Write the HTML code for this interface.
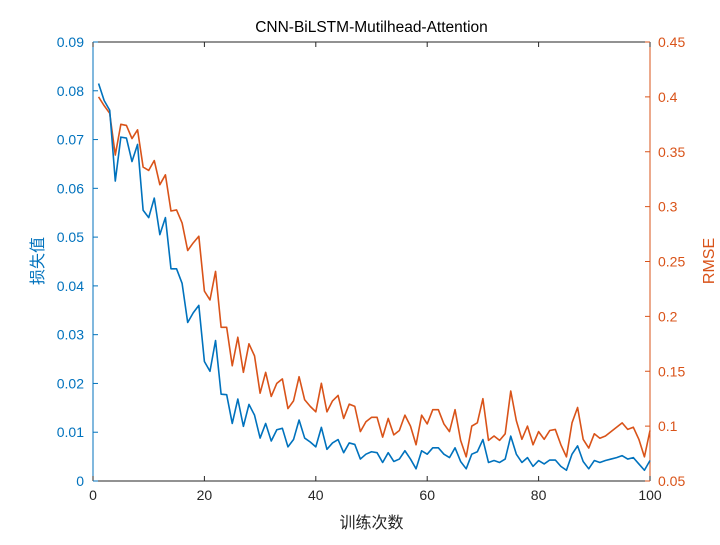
<!DOCTYPE html>
<html><head><meta charset="utf-8"><style>
body{margin:0;background:#fff;width:720px;height:540px;overflow:hidden}
text{font-family:"Liberation Sans","Noto Sans CJK SC",sans-serif}
</style></head><body>
<svg id="chart" width="720" height="540" xmlns="http://www.w3.org/2000/svg"></svg>
<script>
const xTicks=[0,20,40,60,80,100];
const lossTicks=[0,0.01,0.02,0.03,0.04,0.05,0.06,0.07,0.08,0.09];
const lossTickLabels=["0","0.01","0.02","0.03","0.04","0.05","0.06","0.07","0.08","0.09"];
const rmseTicks=[0.05,0.1,0.15,0.2,0.25,0.3,0.35,0.4,0.45];
const rmseTickLabels=["0.05","0.1","0.15","0.2","0.25","0.3","0.35","0.4","0.45"];
const lossValues=[0.0815,0.078,0.076,0.0615,0.0705,0.0703,0.0655,0.069,0.0555,0.054,0.058,0.0505,0.054,0.0435,0.0435,0.0405,0.0325,0.0345,0.036,0.0245,0.0225,0.0288,0.0178,0.0177,0.0118,0.0168,0.0112,0.0157,0.0135,0.0088,0.0118,0.0082,0.0105,0.0108,0.007,0.0085,0.0125,0.0088,0.008,0.007,0.011,0.0065,0.0078,0.0085,0.0058,0.0078,0.0075,0.0045,0.0055,0.006,0.0058,0.0038,0.0058,0.004,0.0045,0.0062,0.0045,0.0025,0.0062,0.0055,0.0068,0.0068,0.0055,0.0048,0.0068,0.004,0.0025,0.0055,0.006,0.0085,0.0038,0.0042,0.0038,0.0045,0.0092,0.0055,0.0038,0.0048,0.003,0.0042,0.0035,0.0043,0.0043,0.003,0.0022,0.0055,0.0072,0.004,0.0025,0.0042,0.0038,0.0042,0.0045,0.0048,0.0052,0.0045,0.0048,0.0035,0.0022,0.0042];
const rmseValues=[0.400,0.392,0.385,0.347,0.375,0.374,0.362,0.370,0.336,0.333,0.342,0.320,0.329,0.296,0.297,0.285,0.260,0.267,0.273,0.223,0.215,0.241,0.19,0.19,0.155,0.181,0.149,0.175,0.164,0.13,0.149,0.127,0.139,0.143,0.116,0.123,0.145,0.124,0.118,0.113,0.139,0.113,0.123,0.128,0.107,0.120,0.118,0.095,0.104,0.108,0.108,0.090,0.107,0.092,0.096,0.110,0.100,0.083,0.110,0.102,0.115,0.115,0.102,0.095,0.115,0.087,0.072,0.100,0.103,0.125,0.087,0.091,0.087,0.093,0.132,0.105,0.088,0.1,0.083,0.095,0.088,0.096,0.097,0.083,0.072,0.103,0.117,0.088,0.080,0.093,0.089,0.091,0.095,0.099,0.103,0.097,0.099,0.088,0.072,0.096];

const svg=document.getElementById('chart');
const NS='http://www.w3.org/2000/svg';
const L=93,R=650,T=42,B=481;
const BLUE='#0072BD',ORANGE='#D95319';
const xs=v=>L+(v-0)/100*(R-L);
const yl=v=>B-(v/0.09)*(B-T);
const yr=v=>B-((v-0.05)/0.4)*(B-T);
function mk(tag,attrs,parent){const e=document.createElementNS(NS,tag);for(const k in attrs)e.setAttribute(k,attrs[k]);(parent||svg).appendChild(e);return e;}

const axes=mk('g',{});


const bx=mk('line',{x1:L,y1:B,x2:R,y2:B,stroke:'#262626','stroke-width':1},axes);

const tx=mk('line',{x1:L,y1:T,x2:R,y2:T,stroke:'#262626','stroke-width':1},axes);

const la=mk('line',{x1:L,y1:T,x2:L,y2:B,stroke:BLUE,'stroke-width':1},axes);

const ra=mk('line',{x1:R,y1:T,x2:R,y2:B,stroke:ORANGE,'stroke-width':1},axes);


xTicks.forEach(v=>{
  mk('line',{x1:xs(v),y1:B,x2:xs(v),y2:B-5,stroke:'#262626'},axes);
  mk('line',{x1:xs(v),y1:T,x2:xs(v),y2:T+5,stroke:'#262626'},axes);
  const t=mk('text',{x:xs(v),y:B+19,'text-anchor':'middle','font-size':14,fill:'#262626'},axes);
  t.textContent=String(v);
  
});
lossTicks.forEach((v,i)=>{
  mk('line',{x1:L,y1:yl(v),x2:L+5,y2:yl(v),stroke:BLUE},axes);
  const t=mk('text',{x:L-9,y:yl(v)+5,'text-anchor':'end','font-size':14,fill:BLUE},axes);
  t.textContent=lossTickLabels[i];
  
});
rmseTicks.forEach((v,i)=>{
  mk('line',{x1:R,y1:yr(v),x2:R-5,y2:yr(v),stroke:ORANGE},axes);
  const t=mk('text',{x:R+8,y:yr(v)+5,'text-anchor':'start','font-size':14,fill:ORANGE},axes);
  t.textContent=rmseTickLabels[i];
  
});

const rp=mk('polyline',{points:rmseValues.map((v,i)=>xs(i+1)+','+yr(v)).join(' '),fill:'none',stroke:ORANGE,'stroke-width':1.6,'stroke-linejoin':'round'});

const lp=mk('polyline',{points:lossValues.map((v,i)=>xs(i+1)+','+yl(v)).join(' '),fill:'none',stroke:BLUE,'stroke-width':1.6,'stroke-linejoin':'round'});


const title=mk('text',{x:(L+R)/2,y:32,'text-anchor':'middle','font-size':15.5,fill:'#000'});
title.textContent='CNN-BiLSTM-Mutilhead-Attention';

const xl=mk('text',{x:(L+R)/2,y:528,'text-anchor':'middle','font-size':16,fill:'#262626'});
xl.textContent='训练次数';

const yt=mk('text',{x:0,y:0,'text-anchor':'middle','font-size':16,fill:BLUE,transform:'translate(43,261) rotate(-90)'});
yt.textContent='损失值';

const rt=mk('text',{x:0,y:0,'text-anchor':'middle','font-size':16,fill:ORANGE,transform:'translate(714,261) rotate(-90)'});
rt.textContent='RMSE';

</script>
</body></html>
